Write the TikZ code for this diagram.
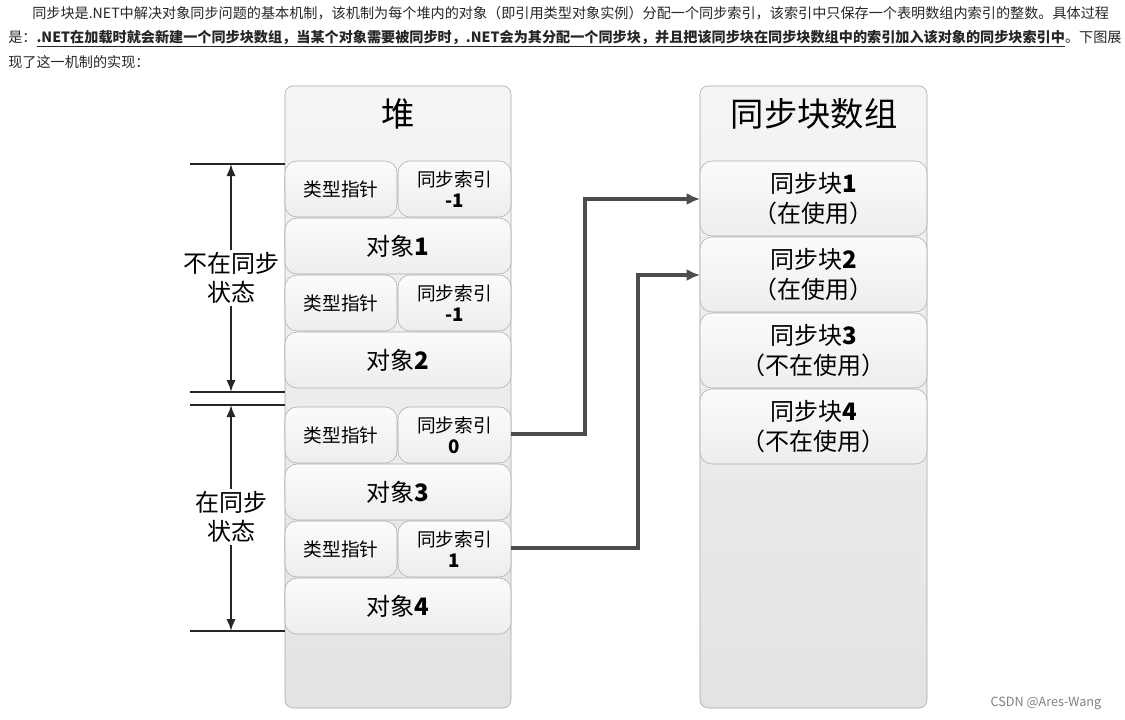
\documentclass[tikz,border=0pt]{standalone}
\usepackage{fontspec}
\setmainfont{Noto Sans CJK SC}
\usetikzlibrary{arrows.meta}
\tikzset{
  col/.style={draw=gray!70,rounded corners=6,top color=gray!8,bottom color=gray!22},
  cell/.style={draw=gray!65,rounded corners=9,top color=gray!3,bottom color=gray!14},
  lbl/.style={font=\fontsize{14}{17}\selectfont,align=center},
  big/.style={font=\fontsize{18}{22}\selectfont,align=center},
  ttl/.style={font=\fontsize{25}{29}\selectfont},
  bline/.style={line width=1.5pt,black!85},
  conn/.style={line width=2.6pt,black!70,-{Latex[length=10pt,width=9pt]}},
  para/.style={anchor=west,inner sep=0,font=\fontsize{10.6}{12}\selectfont,text=black!85}
}
\begin{document}
\begin{tikzpicture}[x=0.75pt,y=-0.75pt]
\useasboundingbox (0,0) rectangle (1125,719);
% paragraph
\node[para] (p1) at (32,13) {同步块是.NET中解决对象同步问题的基本机制，该机制为每个堆内的对象（即引用类型对象实例）分配一个同步索引，该索引中只保存一个表明数组内索引的整数。具体过程};
\node[para] (p2) at (8,39) {是：\textbf{\underline{.NET在加载时就会新建一个同步块数组，当某个对象需要被同步时，.NET会为其分配一个同步块，并且把该同步块在同步块数组中的索引加入该对象的同步块索引中}}。下图展};
\node[para] (p3) at (8,62) {现了这一机制的实现：};
% columns
\draw[col] (285,86) rectangle (511,708);
\draw[col] (700,86) rectangle (927,708);
\node[ttl] (heap) at (398,114) {堆};
\node[ttl] (arr) at (814,114) {同步块数组};
% heap cells
\foreach \y/\n/\v/\o in {161/a/-1/1,275/b/-1/2,407/c/0/3,521/d/1/4}{
  \draw[cell] (285,\y) rectangle (397,\y+56);
  \node[lbl] (t\n) at (341,\y+28) {类型指针};
  \draw[cell] (398,\y) rectangle (511,\y+56);
  \node[lbl] (i\n) at (454.5,\y+28) {同步索引\\[-1pt]\textbf{\v}};
  \coordinate (e\n) at (511,\y+27);
  \draw[cell] (285,\y+57) rectangle (511,\y+113);
  \node[big] (o\n) at (398,\y+85) {对象\textbf{\o}};
}
% array cells
\foreach \y/\n/\s in {161/1/在使用,237/2/在使用,313/3/不在使用,389/4/不在使用}{
  \draw[cell] (700,\y) rectangle (927,\y+75);
  \node[big] (s\n) at (813.5,\y+37.5) {同步块\textbf{\n}\\（\s）};
  \coordinate (w\n) at (700,\y+38);
}
% connectors
\draw[conn] (ec) -- (585,434) |- (w1);
\draw[conn] (ed) -- (638,548) |- (w2);
% brackets
\coordinate (l1a) at (190,164); \coordinate (l1b) at (285,164);
\coordinate (l2a) at (190,392); \coordinate (l2b) at (285,392);
\coordinate (l3a) at (190,405); \coordinate (l3b) at (285,405);
\coordinate (l4a) at (190,631); \coordinate (l4b) at (285,631);
\draw[bline] (l1a) -- (l1b); \draw[bline] (l2a) -- (l2b);
\draw[bline] (l3a) -- (l3b); \draw[bline] (l4a) -- (l4b);
\coordinate (u1) at (231,164); \coordinate (u2) at (231,392);
\coordinate (u3) at (231,405); \coordinate (u4) at (231,631);
\draw[bline,{Latex[length=9pt,width=7pt]}-{Latex[length=9pt,width=7pt]}] (u1) -- (u2);
\draw[bline,{Latex[length=9pt,width=7pt]}-{Latex[length=9pt,width=7pt]}] (u3) -- (u4);
\node[big,fill=white,inner sep=2pt] (st1) at (231,278) {不在同步\\状态};
\node[big,fill=white,inner sep=2pt] (st2) at (231,517) {在同步\\状态};
\node[font=\fontsize{9.5}{11}\selectfont,text=gray] (wm) at (1046,703) {CSDN @Ares-Wang};
\end{tikzpicture}
\end{document}
